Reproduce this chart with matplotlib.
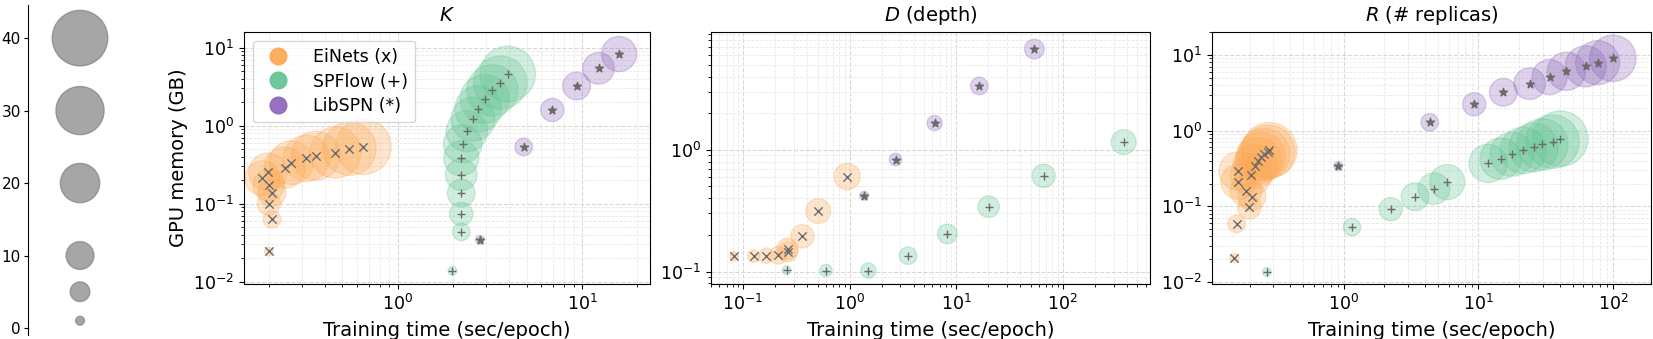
import numpy as np
import matplotlib
matplotlib.use("Agg")
import matplotlib.pyplot as plt
from matplotlib.lines import Line2D

# size variable (K, D, R values) -> bubble size
K_vals = [1, 4, 7, 10, 13, 16, 19, 22, 25, 28, 31, 34, 37, 40]
D_vals = [1, 2, 3, 4, 5, 6, 7, 8, 9]
R_vals = [1, 4, 7, 10, 13, 16, 19, 22, 25, 28, 31, 34, 37, 40]
size_legend = [1, 5, 10, 20, 30, 40]

# K
K_einet_time = [0.199, 0.207, 0.199, 0.207, 0.199, 0.184, 0.197, 0.243, 0.264, 0.319, 0.358, 0.458, 0.546, 0.650]
K_einet_mem = [0.0243, 0.063, 0.100, 0.138, 0.174, 0.212, 0.253, 0.290, 0.336, 0.382, 0.412, 0.451, 0.507, 0.538]
K_spflow_time = [1.98, 2.21, 2.21, 2.21, 2.21, 2.21, 2.25, 2.37, 2.56, 2.73, 2.96, 3.26, 3.60, 3.95]
K_spflow_mem = [0.0137, 0.0434, 0.0738, 0.136, 0.235, 0.382, 0.582, 0.848, 1.21, 1.64, 2.20, 2.84, 3.56, 4.60]
K_libspn_time = [2.79, 4.82, 6.90, 9.35, 12.3, 15.9]
K_libspn_mem = [0.0343, 0.533, 1.59, 3.23, 5.44, 8.30]

# D
D_einet_time = [0.082, 0.126, 0.166, 0.214, 0.262, 0.262, 0.360, 0.508, 0.950]
D_einet_mem = [0.134, 0.134, 0.135, 0.136, 0.145, 0.153, 0.195, 0.314, 0.604]
D_spflow_time = [0.256, 0.60, 1.50, 3.53, 8.26, 20.2, 66.3, 374]
D_spflow_mem = [0.1026, 0.102, 0.102, 0.135, 0.204, 0.341, 0.612, 1.16]
D_libspn_time = [1.37, 2.70, 6.28, 16.5, 54.2]
D_libspn_mem = [0.42, 0.833, 1.66, 3.35, 6.73]

# R
R_einet_time = [0.154, 0.160, 0.199, 0.208, 0.188, 0.165, 0.164, 0.205, 0.220, 0.232, 0.243, 0.257, 0.275, 0.280]
R_einet_mem = [0.0208, 0.0587, 0.0967, 0.134, 0.160, 0.211, 0.292, 0.259, 0.340, 0.400, 0.452, 0.490, 0.526, 0.550]
R_spflow_time = [0.268, 1.15, 2.23, 3.38, 4.67, 5.86, 11.8, 14.6, 17.7, 21.5, 25.7, 29.8, 35.5, 40.5]
R_spflow_mem = [0.0136, 0.053, 0.0918, 0.134, 0.171, 0.209, 0.369, 0.425, 0.486, 0.548, 0.601, 0.658, 0.714, 0.782]
R_libspn_time = [0.908, 4.34, 9.29, 15.3, 24.0, 33.7, 44.9, 62.4, 76.6, 99.5]
R_libspn_mem = [0.34, 1.29, 2.23, 3.21, 4.17, 5.11, 6.08, 7.08, 7.91, 9.04]

colors = {"einet": "#fda64f", "spflow": "#5fc290", "libspn": "#8a63b8"}
markers = {"einet": "x", "spflow": "+", "libspn": "*"}
labels = {"einet": "EiNets (x)", "spflow": "SPFlow (+)", "libspn": "LibSPN (*)"}

panels = [
    ("$K$", K_vals, {"einet": (K_einet_time, K_einet_mem),
                     "spflow": (K_spflow_time, K_spflow_mem),
                     "libspn": (K_libspn_time, K_libspn_mem)},
     (0.146, 23.4), (0.0093, 15.9)),
    ("$D$ (depth)", D_vals, {"einet": (D_einet_time, D_einet_mem),
                             "spflow": (D_spflow_time, D_spflow_mem),
                             "libspn": (D_libspn_time, D_libspn_mem)},
     (0.05, 660), (0.079, 9.3)),
    ("$R$ (# replicas)", R_vals, {"einet": (R_einet_time, R_einet_mem),
                                  "spflow": (R_spflow_time, R_spflow_mem),
                                  "libspn": (R_libspn_time, R_libspn_mem)},
     (0.105, 191), (0.0094, 20.1)),
]

SCALE = 40  # scatter area per unit of size variable

fig = plt.figure(figsize=(16.53, 3.39), dpi=100)

# size legend panel
ax0 = fig.add_axes([0.0169, 0.0118, 0.0618, 0.973])
ax0.scatter([0.5] * len(size_legend), size_legend,
            s=[SCALE * v for v in size_legend], color="gray", alpha=0.7)
ax0.set_xlim(-0.02, 1)
ax0.set_ylim(-0.97, 44.55)
ax0.set_yticks([0, 10, 20, 30, 40])
ax0.set_xticks([])
for side in ["top", "right", "bottom"]:
    ax0.spines[side].set_visible(False)
ax0.tick_params(axis="y", labelsize=11, length=3, pad=2)

lefts = [0.1476, 0.4301, 0.7332]
widths = [0.2456, 0.2656, 0.2656]

for i, (title, vals, series, xlim, ylim) in enumerate(panels):
    ax = fig.add_axes([lefts[i], 0.1622, widths[i], 0.7434])
    ax.set_xscale("log")
    ax.set_yscale("log")
    for key in ["einet", "spflow", "libspn"]:
        t, m = series[key]
        sz = [SCALE * v for v in vals[:len(t)]]
        ax.scatter(t, m, s=sz, color=colors[key], alpha=0.28, zorder=2)
    for key in ["einet", "spflow", "libspn"]:
        t, m = series[key]
        ax.scatter(t, m, s=36, marker=markers[key], color="#6b6b6b",
                   linewidths=1.0, zorder=3)
    ax.set_xlim(*xlim)
    ax.set_ylim(*ylim)
    ax.grid(True, which="major", linestyle="--", color="#d8d8d8", linewidth=0.8)
    ax.grid(True, which="minor", linestyle="--", color="#e8e8e8", linewidth=0.6)
    ax.set_axisbelow(True)
    ax.set_title(title, fontsize=14, pad=8)
    ax.set_xlabel("Training time (sec/epoch)", fontsize=14, labelpad=5)
    ax.tick_params(axis="both", which="major", labelsize=12.5)
    if i == 0:
        ax.set_ylabel("GPU memory (GB)", fontsize=14)
        handles = [Line2D([], [], linestyle="", marker="o", markersize=12,
                          color=colors[k], alpha=0.9) for k in ["einet", "spflow", "libspn"]]
        ax.legend(handles, [labels[k] for k in ["einet", "spflow", "libspn"]],
                  loc="upper left", fontsize=12.5, borderpad=0.45, labelspacing=0.35,
                  handletextpad=1.0)

fig.savefig("out.png", dpi=100)
